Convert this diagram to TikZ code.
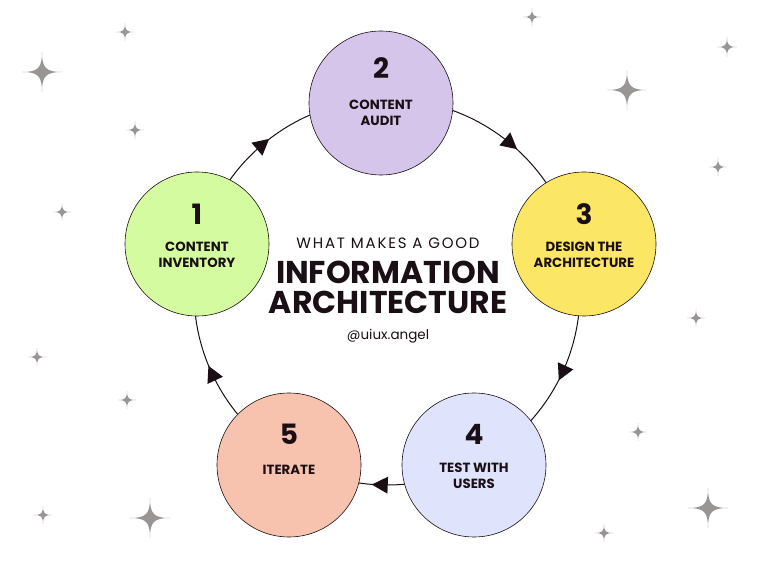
\documentclass[tikz,border=0pt]{standalone}
\usepackage{fontspec}
\setmainfont{Poppins}
\newfontfamily\popsp[LetterSpace=12]{Poppins}
\usetikzlibrary{decorations.markings}
\definecolor{ink}{HTML}{1A0F14}
\definecolor{spk}{HTML}{9A9595}
\definecolor{cA}{HTML}{D5FBA0}
\definecolor{cB}{HTML}{D5C5EA}
\definecolor{cC}{HTML}{FBE665}
\definecolor{cD}{HTML}{DFE3FC}
\definecolor{cE}{HTML}{F8C3AE}
\tikzset{
  stage/.style={circle,draw=ink,line width=0.6pt,minimum size=144pt,inner sep=0pt},
  num/.style={font=\fontsize{28}{30}\selectfont\bfseries,text=ink},
  lab/.style={font=\fontsize{13.3}{16}\selectfont\bfseries,text=ink,align=center},
}
\newcommand{\spark}[3]{\fill[spk] (#1,#2) ++(0,#3) .. controls +(0,-0.8*#3) and +(0.8*#3,0) .. ++(-#3,-#3) .. controls +(0.8*#3,0) and +(0,0.8*#3) .. ++(#3,-#3) .. controls +(0,0.8*#3) and +(-0.8*#3,0) .. ++(#3,#3) .. controls +(-0.8*#3,0) and +(0,-0.8*#3) .. cycle;}
\newcommand{\arrtri}{\fill[ink] (8,0)--(-8,8.5)--(-8,-8.5)--cycle;}
\begin{document}
\begin{tikzpicture}[x=1pt,y=1pt]
\fill[white] (0,0) rectangle (766,565);
\useasboundingbox (0,0) rectangle (766,565);
% ring
\draw[ink,line width=1pt,postaction={decorate},decoration={markings,
  mark=at position 0.139 with {\arrtri},
  mark=at position 0.361 with {\arrtri},
  mark=at position 0.569 with {\arrtri},
  mark=at position 0.756 with {\arrtri},
  mark=at position 0.931 with {\arrtri}}]
  (387,273) ++(180:193) arc[start angle=180,end angle=-180,radius=193];
\node[stage,fill=cA] (s1) at (197,321) {};
\node[stage,fill=cB] (s2) at (381,462) {};
\node[stage,fill=cC] (s3) at (584,321) {};
\node[stage,fill=cD] (s4) at (474,100) {};
\node[stage,fill=cE] (s5) at (289,100) {};
\node[num] (n1) at (197,351) {1};
\node[lab] (l1) at (197,310) {CONTENT\\INVENTORY};
\node[num] (n2) at (381,497) {2};
\node[lab] (l2) at (381,452) {CONTENT\\AUDIT};
\node[num] (n3) at (584,351) {3};
\node[lab] (l3) at (584,310) {DESIGN THE\\ARCHITECTURE};
\node[num] (n4) at (474,131) {4};
\node[lab] (l4) at (474,89) {TEST WITH\\USERS};
\node[num] (n5) at (289,131) {5};
\node[lab] (l5) at (289,95) {ITERATE};
% title
\node[font=\popsp\fontsize{15}{16}\selectfont,text=ink] (t1) at (388,322) {WHAT MAKES A GOOD};
\node[font=\fontsize{31.5}{35}\selectfont\bfseries,text=ink,align=center] (t2) at (388,278) {INFORMATION\\[-5pt]ARCHITECTURE};
\node[font=\fontsize{13.5}{15}\selectfont,text=ink] (t3) at (388,229) {@uiux.angel};
% sparkles
\spark{42}{493}{20}
\spark{125}{533}{9}
\spark{135}{435}{9}
\spark{62}{353}{9}
\spark{37}{208}{9}
\spark{127}{165}{9}
\spark{43}{50}{9}
\spark{150}{47}{20}
\spark{532}{548}{9}
\spark{727}{518}{10}
\spark{627}{475}{20}
\spark{718}{398}{9}
\spark{696}{247}{9}
\spark{638}{133}{9}
\spark{708}{57}{20}
\spark{604}{32}{9}
\end{tikzpicture}
\end{document}
